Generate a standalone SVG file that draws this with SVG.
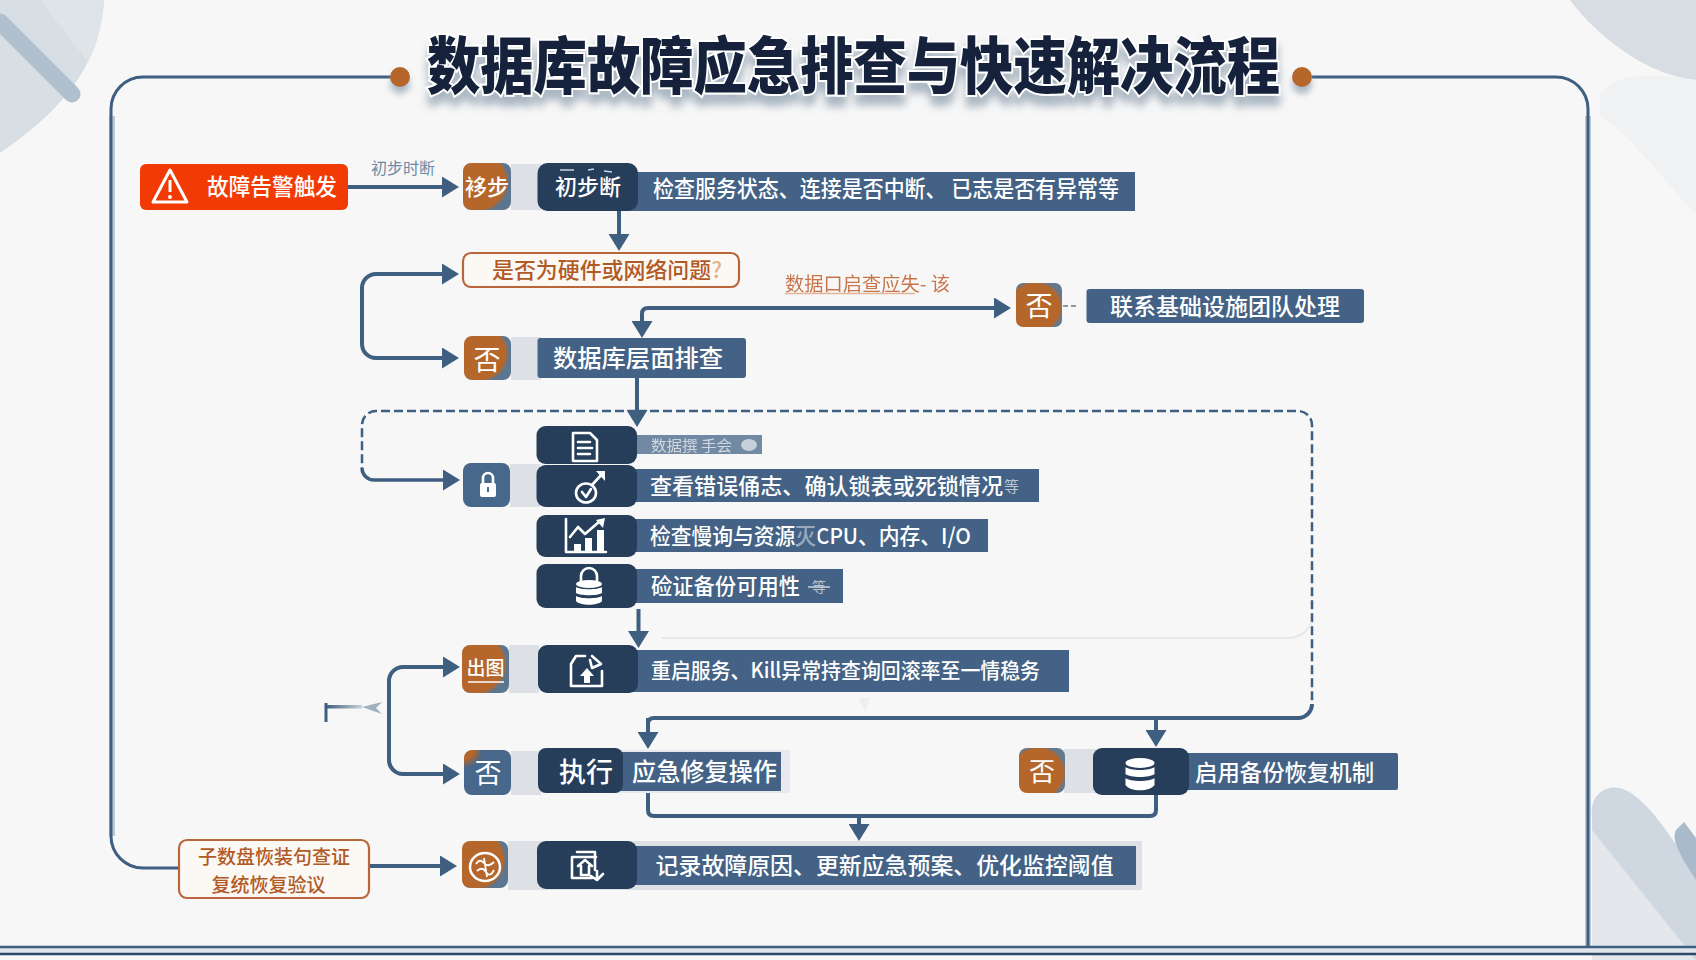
<svg xmlns="http://www.w3.org/2000/svg" width="1696" height="960" viewBox="0 0 1696 960">
<style>
text{font-family:"Noto Sans CJK SC","Liberation Sans",sans-serif}
.w{fill:#fff;font-weight:500}
.c{text-anchor:middle}
.o{fill:#b25a25;font-weight:500}
.dark{fill:#263e5a}
.bar{fill:#436285}
.band{fill:#dde1e6}
.line{fill:none;stroke:#3f5f80;stroke-width:4}
.arrow{marker-end:url(#head)}
.dash{fill:none;stroke:#3f5f80;stroke-width:2.5;stroke-dasharray:9 4}
.ic{fill:none;stroke:#fff;stroke-width:2.6;stroke-linejoin:round;stroke-linecap:round}
.fi{fill:#fff}
.orb{fill:#fcf9f5;stroke:#b9663a;stroke-width:2.2}
</style>
<defs>
<marker id="head" markerUnits="userSpaceOnUse" markerWidth="17" markerHeight="21" refX="13" refY="10.5" orient="auto"><path d="M0,0L17,10.5L0,21z" fill="#3f5f80"/></marker>
<radialGradient id="b1" cx=".3" cy=".4" r=".75"><stop offset=".78" stop-color="#b5662a"/><stop offset=".88" stop-color="#5c7690"/></radialGradient>
<radialGradient id="b2" cx=".42" cy=".55" r=".62"><stop offset=".86" stop-color="#b5662a"/><stop offset=".97" stop-color="#64788e"/></radialGradient>
<radialGradient id="b3" cx="0" cy="0" r=".4"><stop offset=".5" stop-color="#b5662a"/><stop offset="1" stop-color="#47688a"/></radialGradient>
<linearGradient id="fade" x1="0" x2="1"><stop offset="0" stop-color="#3f5f80"/><stop offset="1" stop-color="#c9d2da"/></linearGradient>
<filter id="tsh" x="-5%" y="-30%" width="110%" height="170%"><feDropShadow dx="0" dy="10" stdDeviation="4" flood-color="#7f92a5" flood-opacity=".65"/></filter>
<filter id="dsh" x="-60%" y="-60%" width="220%" height="240%"><feDropShadow dx="0" dy="7" stdDeviation="3" flood-color="#8ea0b0" flood-opacity=".7"/></filter>
</defs>
<rect width="1696" height="960" fill="#f7f7f7"/>
<g id="decor">
<path d="M0,0H104C100,60 70,105 0,153z" fill="#d7dee4"/>
<path d="M40,0H104C103,22 97,45 88,62z" fill="#dfe4e9"/>
<path d="M0,22L72,94" stroke="#afbfcd" stroke-width="17" stroke-linecap="round" fill="none"/>
<path d="M1570,0H1696V80C1650,76 1600,40 1570,0z" fill="#d7dde3"/>
<path d="M1600,95C1615,72 1650,74 1696,80V215C1660,175 1630,135 1600,115z" fill="#eff1f3"/>
<path d="M1592,815C1590,795 1605,785 1620,788C1645,795 1670,835 1696,875V960H1592z" fill="#cfd8e0"/>
<path d="M1592,830L1696,960H1592z" fill="#e4e8ec"/>
<path d="M1676,830C1672,838 1676,850 1696,880V838L1684,822z" fill="#a9bacb"/>
</g>
<g id="title">
<text x="427" y="89" font-size="62" font-weight="900" fill="#13233a" stroke="#fff" stroke-width="4" paint-order="stroke" filter="url(#tsh)" textLength="853" lengthAdjust="spacingAndGlyphs">数据库故障应急排查与快速解决流程</text>
</g>
<g id="connectors">
<path d="M112,116V836" fill="none" stroke="#bccad8" stroke-width="6"/>
<path d="M1588,116V946" fill="none" stroke="#bccad8" stroke-width="6"/>
<path class="line" style="stroke-width:3" d="M392,77H143A32,32 0 0 0 111,109V836A32,32 0 0 0 143,868H182"/>
<path d="M180,861L188,868L180,875z" fill="#3f5f80"/>
<path class="line" style="stroke-width:3" d="M1312,77H1556A32,32 0 0 1 1588,109V946"/>
<path class="line arrow" d="M348,187H455"/>
<path class="line arrow" d="M619,211V247"/>
<path class="line arrow" d="M362,288A14,14 0 0 1 376,274H455"/>
<path class="line arrow" d="M362,288V344A14,14 0 0 0 376,358H455"/>
<path class="line arrow" d="M648,308H1007"/>
<path class="line arrow" d="M648,308Q642,308 642,314V334"/>
<path d="M1063,306H1078" stroke="#8b98a6" stroke-width="2" stroke-dasharray="5 3"/>
<path class="line arrow" d="M637,378V423"/>
<path class="dash" d="M637,411H376A14,14 0 0 0 362,425V468"/>
<path class="line arrow" style="stroke-width:3.5" d="M362,468A12,12 0 0 0 374,480H456"/>
<path class="dash" d="M637,411H1298A14,14 0 0 1 1312,425V704"/>
<path d="M662,638H1290Q1306,636 1312,622" fill="none" stroke="#e6e9ec" stroke-width="2"/>
<path d="M859,698L870,698L865,712z" fill="#eceff1"/>
<path class="line" d="M1312,704A14,14 0 0 1 1298,718H654Q648,718 648,724"/>
<path class="line arrow" d="M648,718V745"/>
<path class="line arrow" d="M1156,718V743"/>
<path class="line arrow" d="M638.500,609V644"/>
<path class="line arrow" d="M389,681A14,14 0 0 1 403,667H456"/>
<path class="line arrow" d="M389,681V760A14,14 0 0 0 403,774H456"/>
<path d="M326,703V722" stroke="#3f5f80" stroke-width="3"/>
<rect x="326" y="705" width="36" height="3.500" fill="url(#fade)"/>
<path d="M362,707L382,702L376,708L382,714z" fill="#9fb0c0"/>
<path class="line" d="M648,791V810Q648,816 654,816H1150Q1156,816 1156,810V795"/>
<path class="line arrow" d="M859,816V837"/>
<path class="line arrow" d="M369,866H453"/>
<circle cx="400" cy="77" r="10" fill="#b5662a" filter="url(#dsh)"/>
<circle cx="1302" cy="77" r="10" fill="#b5662a" filter="url(#dsh)"/>
</g>
<g id="n-alert">
<rect x="140" y="164" width="208" height="46" rx="6" fill="#f23a05"/>
<path d="M170,170L187,202H153z" fill="none" stroke="#fff" stroke-width="3" stroke-linejoin="round"/>
<rect x="168.500" y="180" width="3" height="12" class="fi"/><circle cx="170" cy="197" r="2" class="fi"/>
<text x="207" y="195" font-size="23" class="w" textLength="130" lengthAdjust="spacingAndGlyphs">故障告警触发</text>
</g>
<text id="l-initial" x="403" y="174" font-size="16" fill="#6b8aa5" class="c">初步时断</text>
<g id="n-initial">
<rect x="511" y="164" width="30" height="46" class="band"/>
<rect x="463" y="163" width="48" height="47" rx="8" fill="url(#b1)"/>
<text x="487" y="195" font-size="22" class="w c">袳步</text>
<rect x="620" y="172" width="515" height="39" class="bar"/>
<rect x="537.500" y="163" width="100.500" height="48" rx="10" class="dark"/>
<path d="M560,170H574M588,170L594,169M604,171L612,172" stroke="#cdd5dd" stroke-width="1.500"/>
<text x="588" y="195" font-size="22" class="w c">初步断</text>
<text x="653" y="197" font-size="23" class="w" textLength="466" lengthAdjust="spacingAndGlyphs">检查服务状态、连接是否中断、 已志是否有异常等</text>
</g>
<g id="n-decision">
<rect x="463" y="253" width="276" height="34" rx="8" class="orb"/>
<text x="492" y="278" font-size="22" class="o" textLength="230" lengthAdjust="spacingAndGlyphs">是否为硬件或网络问题<tspan fill="#e0b08e">?</tspan></text>
</g>
<g id="n-db-check">
<rect x="511" y="337" width="30" height="43" class="band"/>
<rect x="464" y="336" width="47" height="44" rx="8" fill="url(#b1)"/>
<text x="487" y="370" font-size="27" fill="#fff" class="c">否</text>
<rect x="537.500" y="338" width="208.500" height="40" rx="3" class="bar"/>
<text x="553" y="367" font-size="24" class="w" textLength="170" lengthAdjust="spacingAndGlyphs">数据库层面排查</text>
</g>
<text id="l-db" x="785" y="291" font-size="19" fill="#c4683a" opacity=".9" textLength="165" lengthAdjust="spacingAndGlyphs">数据口启查应失- 该</text>
<path d="M785,293.500H915" stroke="#e3b596" stroke-width="1.500"/>
<g id="n-infra">
<rect x="1016" y="283" width="46" height="44" rx="7" fill="url(#b2)"/>
<text x="1039" y="316" font-size="27" fill="#fff" class="c">否</text>
<rect x="1086.500" y="289" width="277.500" height="34" rx="3" class="bar"/>
<text x="1110" y="315" font-size="23" class="w" textLength="230" lengthAdjust="spacingAndGlyphs">联系基础设施团队处理</text>
</g>
<g id="n-check-1">
<rect x="630" y="435" width="132" height="19" fill="#7189a2"/>
<rect x="536.500" y="426" width="100.500" height="38" rx="9" class="dark"/>
<path class="ic" d="M573,433H590L597,440V461H573zM578,442H590M578,448H592M578,454H590" stroke-width="2.200"/>
<text x="651" y="451" font-size="15" fill="#dfe5eb" textLength="81" lengthAdjust="spacingAndGlyphs" opacity=".85">数据撰 手会</text>
<ellipse cx="749" cy="445" rx="8" ry="6" fill="#c6d0da"/>
</g>
<g id="n-check-2">
<rect x="510" y="464" width="30" height="43" class="band"/>
<rect x="463" y="463" width="47" height="44" rx="8" fill="#47688a"/>
<path class="ic" d="M483,483V478A5,5 0 0 1 493,478V483" stroke-width="2.500"/>
<rect x="480" y="483" width="16" height="14" rx="2" class="fi"/><rect x="487" y="487" width="2" height="5" fill="#47688a"/>
<rect x="630" y="469" width="409" height="33" class="bar"/>
<rect x="536.500" y="465" width="100.500" height="42" rx="9" class="dark"/>
<ellipse cx="586" cy="493" rx="10" ry="9.500" class="ic" stroke-width="3.500"/>
<path class="ic" d="M592,485L603,473" stroke-width="3"/><path class="fi" d="M596,471H605V481z"/>
<path class="ic" d="M582,492L586,497L591,489" stroke-width="2"/>
<text x="650" y="494" font-size="22" class="w" textLength="353" lengthAdjust="spacingAndGlyphs">查看错误俑志、确认锁表或死锁情况</text>
<text x="1004" y="492" font-size="15" fill="#b9c6d2">等</text>
</g>
<g id="n-check-3">
<rect x="630" y="519" width="358" height="33" class="bar"/>
<rect x="536.500" y="515" width="100.500" height="42" rx="9" class="dark"/>
<path class="ic" d="M566,519V552H606" stroke-width="2"/>
<path class="fi" d="M574,544h7v8h-7zM585,538h7v14h-7zM597,530h7v22h-7z"/>
<path class="ic" d="M570,537L578,527L585,534L600,521"/><path class="fi" d="M596,520L605,518L603,528z"/>
<text x="650" y="544" font-size="22" class="w" textLength="321" lengthAdjust="spacingAndGlyphs">检查慢询与资源灭CPU、内存、I/O</text>
<rect x="797" y="523" width="21" height="26" class="bar" opacity=".55"/>
</g>
<g id="n-check-4">
<rect x="630" y="569" width="213" height="34" class="bar"/>
<rect x="536.500" y="564" width="100.500" height="44" rx="9" class="dark"/>
<path class="ic" d="M581,582V576A8,8 0 0 1 597,576V582" stroke-width="2.500"/>
<ellipse cx="589" cy="584" rx="13" ry="4" class="fi"/>
<path class="fi" d="M576,587C580,590 598,590 602,587V593C598,596 580,596 576,593zM576,596C580,599 598,599 602,596V601C598,606 580,606 576,601z"/>
<text x="651" y="594" font-size="22" class="w" textLength="149" lengthAdjust="spacingAndGlyphs">硷证备份可用性</text>
<path d="M808,587H830" stroke="#c4cfd9" stroke-width="1.500"/><text x="812" y="592" font-size="14" fill="#b9c6d2">等</text>
</g>
<g id="n-repair-a">
<rect x="509" y="645" width="30" height="48" class="band"/>
<rect x="462" y="645" width="47" height="48" rx="8" fill="url(#b1)"/>
<text x="485.500" y="675" font-size="19" class="w c">出图</text>
<path d="M468,682H504" stroke="#fff" stroke-width="1.500"/>
<rect x="625" y="650" width="444" height="42" class="bar"/>
<rect x="538" y="645" width="100" height="48" rx="9" class="dark"/>
<path class="ic" d="M585,656H576L571,664V686H602V671M592,656L601,664L592,668L590,660" stroke-width="2.200"/>
<path class="fi" d="M587,668L594,676H590V683H584V676H580z"/>
<text x="651" y="678" font-size="21" class="w" textLength="389" lengthAdjust="spacingAndGlyphs">重启服务、Kill异常持查询回滚率至一情稳务</text>
</g>
<g id="n-repair-b">
<rect x="511" y="751" width="30" height="44" class="band"/>
<rect x="464" y="750" width="47" height="45" rx="8" fill="url(#b3)"/>
<text x="488" y="783" font-size="27" fill="#fff" class="c">否</text>
<rect x="612" y="750" width="178" height="43" fill="#e6e9ed"/>
<rect x="612" y="752" width="169" height="39" class="bar"/>
<rect x="538" y="748" width="85" height="45" rx="8" class="dark"/>
<text x="586" y="782" font-size="27" class="w c">执行</text>
<text x="632" y="781" font-size="25" class="w" textLength="145" lengthAdjust="spacingAndGlyphs">应急修复操作</text>
</g>
<g id="n-restore">
<rect x="1064" y="749" width="32" height="44" class="band"/>
<rect x="1019" y="748" width="46" height="45" rx="8" fill="url(#b2)"/>
<text x="1042" y="781" font-size="26" fill="#fff" class="c">否</text>
<rect x="1180" y="753" width="218" height="37" rx="2" class="bar"/>
<rect x="1093" y="748" width="96" height="47" rx="9" class="dark"/>
<ellipse cx="1140" cy="763" rx="14.500" ry="5" class="fi"/>
<path class="fi" d="M1125.500,767C1130,771 1150,771 1154.500,767V774C1150,778 1130,778 1125.500,774zM1125.500,778C1130,782 1150,782 1154.500,778V785C1150,792 1130,792 1125.500,785z"/>
<text x="1195" y="781" font-size="23" class="w" textLength="179" lengthAdjust="spacingAndGlyphs">启用备份恢复机制</text>
</g>
<g id="n-verify">
<rect x="179" y="840" width="190" height="58" rx="8" class="orb"/>
<text class="o c" font-size="19"><tspan x="274" y="864">子数盘恢装句查证</tspan><tspan x="268.500" y="892">复统恢复验议</tspan></text>
</g>
<g id="n-record">
<rect x="508" y="841" width="634" height="49" class="band"/>
<rect x="462" y="841" width="46" height="47" rx="8" fill="url(#b1)"/>
<ellipse cx="485" cy="867" rx="15" ry="14" fill="none" stroke="#fff" stroke-width="2.500"/>
<path d="M476,864Q480,858 484,863T494,862M477,871Q482,866 486,872T494,870M484,858L487,877" fill="none" stroke="#fff" stroke-width="1.800"/>
<rect x="625" y="846" width="511" height="39" class="bar"/>
<rect x="537" y="841" width="100" height="48" rx="9" class="dark"/>
<path class="ic" d="M577,852H595V870M572,857H596M572,857V878H592" stroke-width="2"/>
<path class="ic" d="M578,866L585,860L592,866M581,866V875H589V866M597,871V880L603,874M597,880L591,876" stroke-width="2"/>
<text x="655.600" y="874" font-size="23" class="w" textLength="458" lengthAdjust="spacingAndGlyphs">记录故障原因、更新应急预案、优化监控阈值</text>
</g>
<g id="footer">
<rect x="0" y="947" width="1696" height="7" fill="#dfe5ea"/>
<path d="M0,947H1696" stroke="#3f5f80" stroke-width="2.500"/>
<path d="M0,954H1696" stroke="#2f4a68" stroke-width="2.500"/>
</g>
</svg>
